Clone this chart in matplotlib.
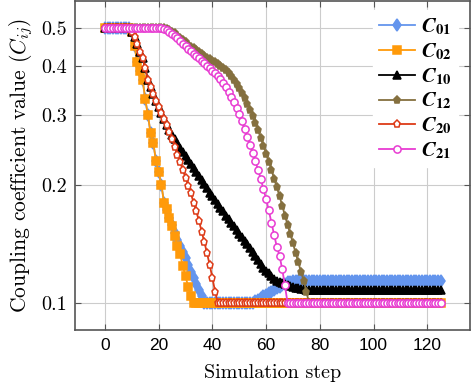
import numpy as np
import matplotlib
matplotlib.use('Agg')
import matplotlib.pyplot as plt
from matplotlib.ticker import FixedLocator, NullLocator, FixedFormatter

# Computer-Modern look for labels
plt.rcParams['font.family'] = 'serif'
plt.rcParams['font.serif'] = ['cmr10', 'DejaVu Serif']
plt.rcParams['mathtext.fontset'] = 'cm'
plt.rcParams['axes.unicode_minus'] = False

# simulation steps 0..125
steps = np.arange(126)

c01 = ([0.5] * 10
       + [0.49, 0.45, 0.41, 0.39, 0.37, 0.33, 0.30, 0.27, 0.255, 0.23, 0.215, 0.2, 0.18]
       + [0.172, 0.165, 0.158, 0.151, 0.145, 0.14, 0.135, 0.13, 0.125, 0.12, 0.116, 0.112, 0.108, 0.104]
       + [0.1] * 19
       + [0.101, 0.102, 0.103, 0.104, 0.105, 0.106, 0.107, 0.108, 0.109, 0.11, 0.111, 0.112, 0.113, 0.1135]
       + [0.114] * 56)

c02 = ([0.5] * 10
       + [0.49, 0.45, 0.41, 0.39, 0.37, 0.33, 0.30, 0.27, 0.255, 0.23, 0.215, 0.2, 0.18, 0.174,
          0.165, 0.157, 0.148, 0.14, 0.133, 0.124, 0.117, 0.11, 0.104]
       + [0.1] * 93)

c10 = ([0.5] * 10
       + [0.49, 0.475, 0.455, 0.435, 0.42, 0.395, 0.37, 0.355, 0.34, 0.326, 0.315, 0.304, 0.293, 0.283,
          0.275, 0.268, 0.262, 0.255, 0.248, 0.242, 0.237, 0.231, 0.226, 0.221, 0.216, 0.211, 0.206,
          0.201, 0.196, 0.191, 0.187, 0.183, 0.179, 0.175, 0.171, 0.167, 0.164, 0.16, 0.157, 0.153,
          0.15, 0.147, 0.144, 0.141, 0.138, 0.135, 0.132, 0.129, 0.126, 0.123, 0.121, 0.119, 0.117,
          0.1155, 0.114, 0.113, 0.1125, 0.112, 0.111, 0.1105, 0.11, 0.1095, 0.109, 0.1088, 0.1085, 0.1082]
       + [0.108] * 50)

c12 = ([0.5] * 22
       + [0.499, 0.497, 0.494, 0.49, 0.485, 0.478, 0.472, 0.466, 0.46, 0.454, 0.449, 0.444, 0.439,
          0.434, 0.43, 0.425, 0.421, 0.417, 0.413, 0.409, 0.405, 0.4, 0.396, 0.391, 0.385, 0.378,
          0.37, 0.361, 0.352, 0.342, 0.332, 0.321, 0.31, 0.299, 0.287, 0.275, 0.263, 0.251, 0.24,
          0.229, 0.218, 0.207, 0.197, 0.187, 0.177, 0.167, 0.158, 0.15, 0.142, 0.134, 0.127, 0.12,
          0.114, 0.107]
       + [0.1] * 50)

c20 = ([0.5] * 10
       + [0.49, 0.475, 0.455, 0.435, 0.42, 0.395, 0.37, 0.355, 0.34, 0.326, 0.315, 0.304, 0.293, 0.283]
       + [0.272, 0.262, 0.25, 0.238, 0.228, 0.218, 0.208, 0.199, 0.19, 0.18, 0.171, 0.162, 0.152,
          0.143, 0.134, 0.125, 0.116, 0.107]
       + [0.1] * 84)

c21 = ([0.5] * 21
       + [0.499, 0.497, 0.494, 0.49, 0.484, 0.478, 0.471, 0.464, 0.457, 0.45, 0.443, 0.437, 0.431,
          0.425, 0.419, 0.413, 0.407, 0.401, 0.396, 0.39, 0.384, 0.378, 0.371, 0.363, 0.354, 0.345,
          0.335, 0.325, 0.314, 0.302, 0.29, 0.277, 0.265, 0.253, 0.241, 0.23, 0.218, 0.207, 0.195,
          0.184, 0.172, 0.16, 0.149, 0.139, 0.132, 0.122, 0.111]
       + [0.1] * 58)

labels = [r'$\mathbfit{C}_{\mathbf{01}}$', r'$\mathbfit{C}_{\mathbf{02}}$', r'$\mathbfit{C}_{\mathbf{10}}$',
          r'$\mathbfit{C}_{\mathbf{12}}$', r'$\mathbfit{C}_{\mathbf{20}}$', r'$\mathbfit{C}_{\mathbf{21}}$']
xticks = [0, 20, 40, 60, 80, 100, 120]
yticks = [0.1, 0.2, 0.3, 0.4, 0.5]
ytick_labels = ['0.1', '0.2', '0.3', '0.4', '0.5']

# series styles: colour, marker, face colour
styles = [
    ('#6495ED', 'd', '#6495ED'),
    ('#FF9A0A', 's', '#FF9A0A'),
    ('#000000', '^', '#000000'),
    ('#85703F', 'p', '#85703F'),
    ('#DD3A17', 'p', 'white'),
    ('#E83CD2', 'o', 'white'),
]

fig = plt.figure(figsize=(4.74, 3.90), dpi=100)
ax = fig.add_axes([0.158, 0.154, 0.834, 0.843])

for ys, lab, (col, mk, fc) in zip([c01, c02, c10, c12, c20, c21], labels, styles):
    ax.plot(steps, ys, color=col, marker=mk, markerfacecolor=fc, markeredgecolor=col,
            markersize=5.2 if mk != 'd' else 6.2, markeredgewidth=1.1, linewidth=1.3, label=lab)

ax.set_yscale('log')
ax.set_xlim(-11.2, 136.0)
ax.set_ylim(0.0855, 0.5855)
ax.yaxis.set_major_locator(FixedLocator(yticks))
ax.yaxis.set_major_formatter(FixedFormatter(ytick_labels))
ax.yaxis.set_minor_locator(NullLocator())
ax.set_xticks(xticks)
for t in ax.get_xticklabels():
    t.set_fontfamily('Liberation Sans')
    t.set_fontsize(12.5)
for t in ax.get_yticklabels():
    t.set_fontsize(14.5)

ax.grid(True, color='#cccccc', linewidth=0.8)
ax.set_axisbelow(True)
ax.tick_params(direction='in', length=4, color='#555555', top=True, right=True, pad=6)
for s in ax.spines.values():
    s.set_color('#555555')
    s.set_linewidth(1.2)

ax.set_xlabel('Simulation step', fontsize=14.5, labelpad=8)
ax.set_ylabel(r'Coupling coefficient value ($C_{ij}$)', fontsize=15.5, labelpad=4)

leg = ax.legend(loc='upper right', bbox_to_anchor=(0.995, 1.005), fontsize=15,
                handlelength=1.7, handletextpad=0.3, labelspacing=0.2,
                borderpad=0.3, frameon=True, fancybox=False)
leg.get_frame().set_edgecolor('white')
leg.get_frame().set_alpha(1.0)
for t in leg.get_texts():
    t.set_math_fontfamily('stix')

fig.savefig('out.png', dpi=100)
